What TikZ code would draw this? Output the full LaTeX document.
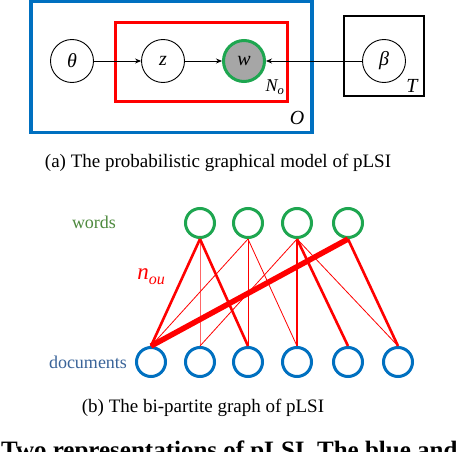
\documentclass[tikz,border=0pt]{standalone}
\usepackage{fontspec}
\setmainfont{Liberation Serif}
\usetikzlibrary{arrows.meta}
\definecolor{pblue}{HTML}{0070C0}
\definecolor{pred}{HTML}{FF0000}
\definecolor{pgreen}{HTML}{1EA650}
\definecolor{wordgreen}{HTML}{4E8A3E}
\definecolor{docblue}{HTML}{3A6499}
\definecolor{wgray}{HTML}{A6A6A6}
\begin{document}
\begin{tikzpicture}[x=1pt,y=-1pt,
  var/.style={circle,draw=black,line width=0.9pt,minimum size=43pt,inner sep=0pt,font=\fontsize{20}{20}\selectfont\itshape},
  obs/.style={circle,draw=pgreen,fill=wgray,line width=3pt,minimum size=41pt,inner sep=0pt,font=\fontsize{20}{20}\selectfont\itshape},
  arr/.style={-{Stealth[length=6pt,width=5pt]},line width=0.8pt},
  word/.style={circle,draw=pgreen,line width=3pt,minimum size=29pt,inner sep=0pt},
  doc/.style={circle,draw=pblue,line width=3pt,minimum size=29pt,inner sep=0pt},
  thinedge/.style={draw=pred,line width=0.8pt},
  midedge/.style={draw=pred,line width=2.6pt},
  heavyedge/.style={draw=pred,line width=5.5pt},
  captext/.style={font=\fontsize{19}{19}\selectfont}
]
\clip (0,0) rectangle (458,452);
\fill[white] (0,0) rectangle (458,452);
% plates
\draw[pblue,line width=3.5pt] (31,1.5) rectangle (312,132.5);
\draw[pred,line width=3pt] (115,22.5) rectangle (287,101.5);
\draw[black,line width=1.1pt] (344,16) rectangle (424,96);
% nodes
\node[var] (theta) at (72,61) {θ};
\node[var] (z) at (163,61) {z};
\node[obs] (w) at (244,61) {w};
\node[var] (beta) at (384,61) {β};
\node[font=\fontsize{18}{18}\selectfont\itshape] (No) at (275,87) {N\textsubscript{o}};
\node[font=\fontsize{20}{20}\selectfont\itshape] (O) at (297,118) {O};
\node[font=\fontsize{20}{20}\selectfont\itshape] (T) at (412,86) {T};
\draw[arr] (theta) -- (z);
\draw[arr] (z) -- (w);
\draw[arr] (beta) -- (w);
\node[captext] (capa) at (218,163) {(a) The probabilistic graphical model of pLSI};
% bipartite
\foreach \i/\x in {1/200,2/248,3/297,4/348} \node[word] (w\i) at (\x,223) {};
\foreach \i/\x in {1/151,2/200,3/248,4/297,5/348,6/398} \node[doc] (d\i) at (\x,362) {};
\node[font=\fontsize{18}{18}\selectfont,text=wordgreen] (wl) at (94,222) {words};
\node[font=\fontsize{18}{18}\selectfont,text=docblue] (dl) at (88,362) {documents};
\node[text=pred,font=\fontsize{23}{23}\selectfont\itshape] (nou) at (151,277) {n\raisebox{-0.22em}{\fontsize{16}{16}\selectfont ou}};
\draw[midedge] (w1.south) -- (d1.north);
\draw[draw=pred!60,line width=0.7pt] (w1.south) -- (d2.north);
\draw[midedge] (w1.south) -- (d3.north);
\draw[thinedge] (w2.south) -- (d1.north);
\draw[thinedge] (w2.south) -- (d3.north);
\draw[thinedge] (w2.south) -- (d4.north);
\draw[thinedge] (w3.south) -- (d2.north);
\draw[midedge] (w3.south) -- (d4.north);
\draw[midedge] (w3.south) -- (d5.north);
\draw[thinedge] (w3.south) -- (d6.north);
\draw[heavyedge] (w4.south) -- (d1.north);
\draw[midedge] (w4.south) -- (d6.north);
\node[captext] (capb) at (203,408) {(b) The bi-partite graph of pLSI};
\node[anchor=base west,inner sep=0pt,font=\fontsize{25}{25}\selectfont\bfseries] (bold) at (1,458.5) {Two representations of pLSI. The blue and};
\end{tikzpicture}
\end{document}
